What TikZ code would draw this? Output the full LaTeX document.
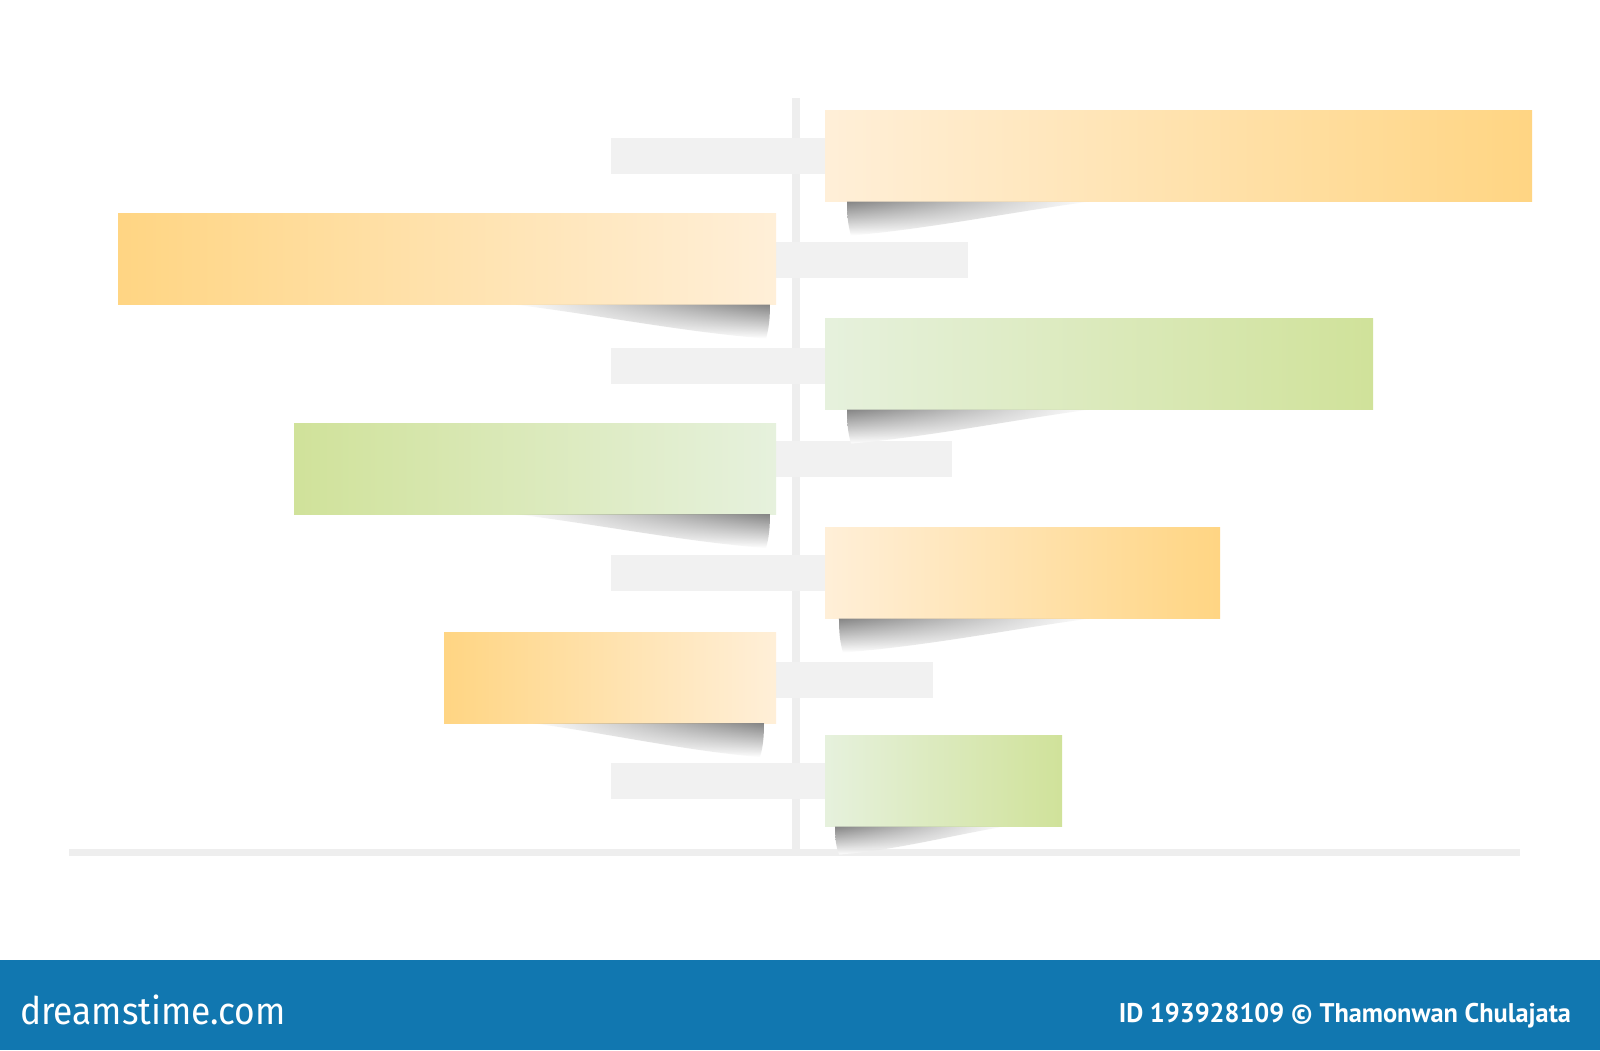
\documentclass[tikz,border=0pt]{standalone}
\usepackage{fontspec}
\usepackage{tikz}
\usetikzlibrary{fadings}
\newfontfamily\creditfont{PT Sans}
\newfontfamily\logofont{Fira Sans}
\definecolor{orangelight}{HTML}{FFEFD8}
\definecolor{orangedark}{HTML}{FFD583}
\definecolor{greenlight}{HTML}{E6F1DD}
\definecolor{greendark}{HTML}{D0E29A}
\definecolor{runggray}{HTML}{F1F1F1}
\definecolor{axisgray}{HTML}{EEEEEE}
\definecolor{bannerblue}{HTML}{1177B0}

\begin{document}
\begin{tikzpicture}[x=1pt, y=-1pt,
  every node/.style={inner sep=0pt, outer sep=0pt},
  rung/.style={fill=runggray, minimum height=36pt},
  note/.style={minimum height=91pt},
  shadowR/.style={top color=black!48, middle color=black!14, bottom color=white, path fading=east},
  shadowL/.style={top color=black!48, middle color=black!14, bottom color=white, path fading=west}]
\useasboundingbox[fill=white] (0,0) rectangle (1600,1050);

\coordinate (axtop) at (796,98);
\coordinate (axbot) at (796,852);
\coordinate (baseL) at (69,852);
\coordinate (baseR) at (1520,852);
\draw[axisgray, line width=8pt] (axtop) -- (axbot);

\node[rung, minimum width=218pt] (rung1) at (720,156) {};
\node[rung, minimum width=198pt] (rung2) at (869,259.5) {};
\node[rung, minimum width=218pt] (rung3) at (720,365.5) {};
\node[rung, minimum width=182pt] (rung4) at (861,458.5) {};
\node[rung, minimum width=218pt] (rung5) at (720,573) {};
\node[rung, minimum width=163pt] (rung6) at (851.5,679.5) {};
\node[rung, minimum width=218pt] (rung7) at (720,781) {};

\draw[axisgray, line width=7pt] (baseL) -- (baseR);

\node[note, minimum width=707pt, left color=orangelight, right color=orangedark] (note1) at (1178.5,156) {};
\node[note, minimum width=658pt, left color=orangedark, right color=orangelight] (note2) at (447,259) {};
\node[note, minimum width=548pt, left color=greenlight, right color=greendark] (note3) at (1099,364) {};
\node[note, minimum width=482pt, left color=greendark, right color=greenlight] (note4) at (535,468.5) {};
\node[note, minimum width=395pt, left color=orangelight, right color=orangedark] (note5) at (1022.5,573) {};
\node[note, minimum width=332pt, left color=orangedark, right color=orangelight] (note6) at (610,677.5) {};
\node[note, minimum width=237pt, left color=greenlight, right color=greendark] (note7) at (943.5,781) {};

\shade[shadowR, shift={(note1.south west)}] (22,0) .. controls (22,14) and (23,24) .. (26,34) .. controls (100,28) and (190,10) .. (265,0) -- cycle;
\shade[shadowL, shift={(note2.south east)}] (-6,0) .. controls (-6,14) and (-7,24) .. (-10,34) .. controls (-90,28) and (-180,10) .. (-262,0) -- cycle;
\shade[shadowR, shift={(note3.south west)}] (22,0) .. controls (22,14) and (23,24) .. (26,34) .. controls (100,28) and (190,10) .. (265,0) -- cycle;
\shade[shadowL, shift={(note4.south east)}] (-6,0) .. controls (-6,14) and (-7,24) .. (-10,34) .. controls (-90,28) and (-180,10) .. (-262,0) -- cycle;
\shade[shadowR, shift={(note5.south west)}] (14,0) .. controls (14,14) and (15,24) .. (18,34) .. controls (100,28) and (190,10) .. (265,0) -- cycle;
\shade[shadowL, shift={(note6.south east)}] (-12,0) .. controls (-12,14) and (-13,24) .. (-16,34) .. controls (-90,28) and (-170,10) .. (-245,0) -- cycle;
\shade[shadowR, shift={(note7.south west)}] (10,0) .. controls (10,12) and (11,20) .. (14,28) .. controls (70,24) and (130,8) .. (180,0) -- cycle;

\fill[bannerblue] (0,960) rectangle (1600,1050);
\node[anchor=base west, text=white, font=\logofont\fontsize{38}{40}\selectfont] (logo) at (20,1024) {\scalebox{0.93}[1]{dreamstime.com}};
\node[anchor=base east, text=white, font=\creditfont\bfseries\fontsize{27}{30}\selectfont] (credit) at (1571,1022) {\scalebox{0.975}[1]{ID 193928109 © Thamonwan Chulajata}};
\end{tikzpicture}
\end{document}
